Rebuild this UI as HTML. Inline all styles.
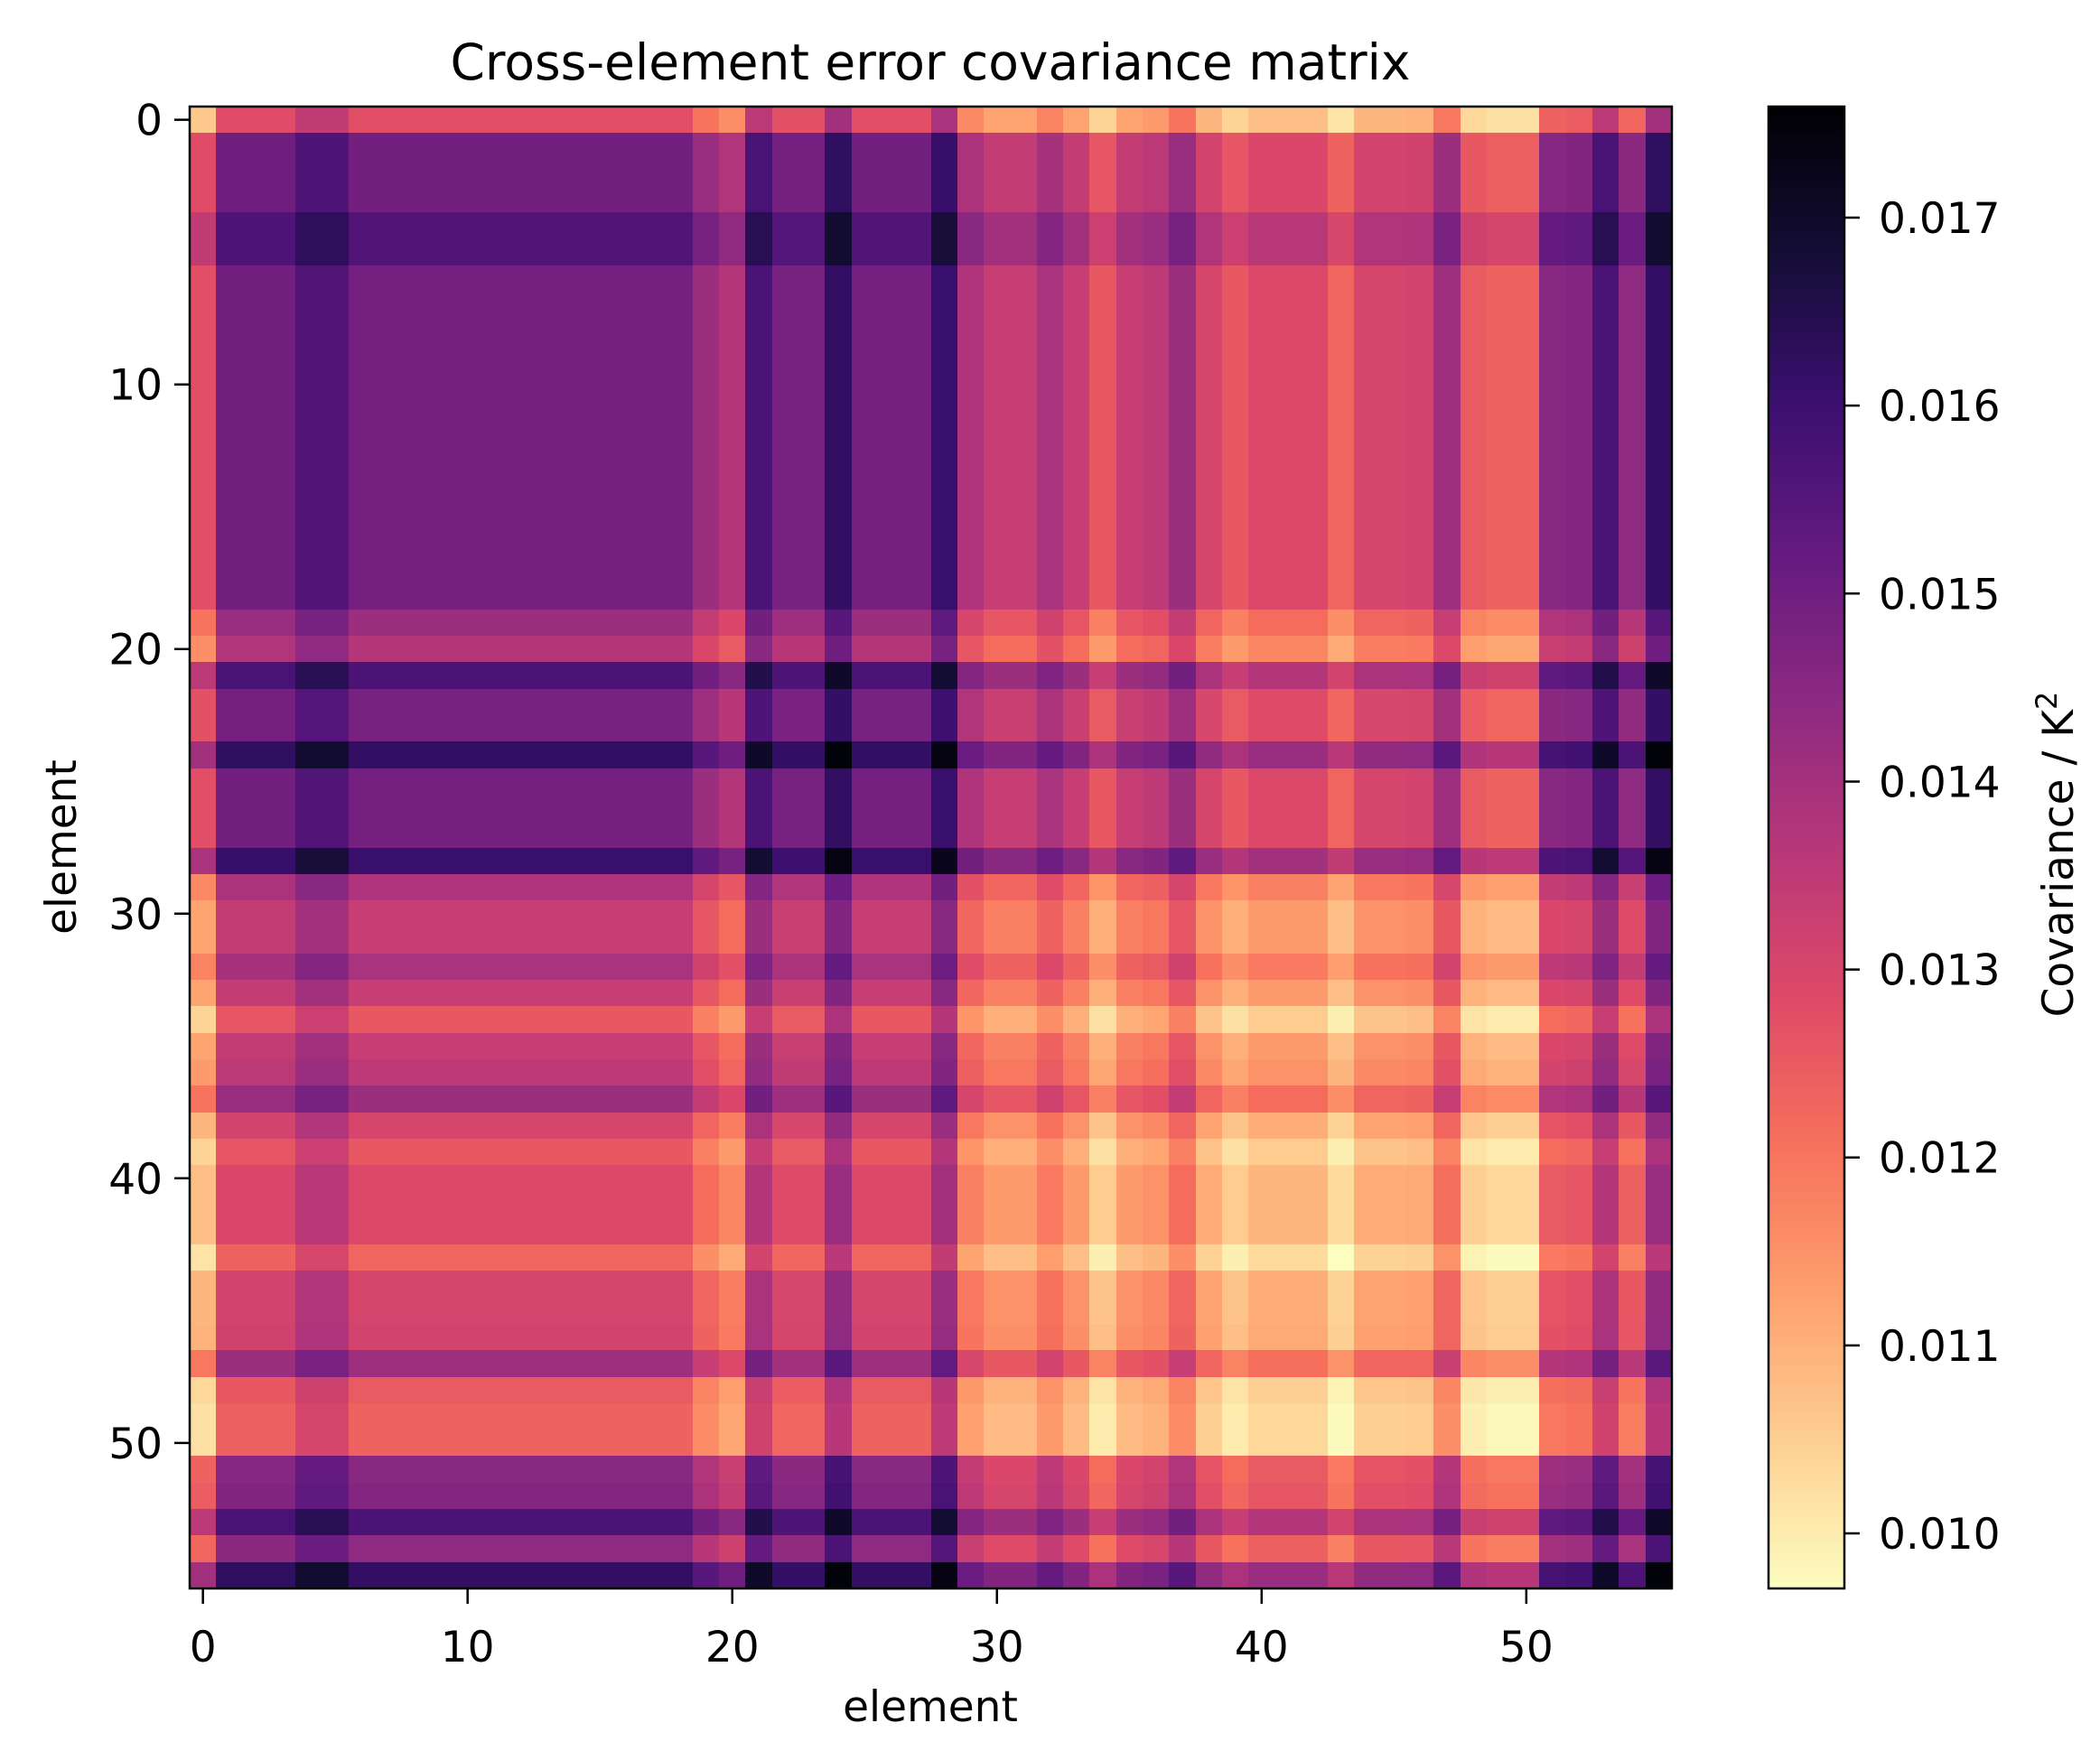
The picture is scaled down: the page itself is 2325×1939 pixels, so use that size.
<!DOCTYPE html>
<html><head><meta charset="utf-8">
<style>
html,body{margin:0;padding:0;background:#fff;}
svg{display:block;}
text{font-family:"DejaVu Sans","Liberation Sans",sans-serif;fill:#000;}
</style></head>
<body>
<svg id="s" width="2325" height="1939" viewBox="0 0 2325 1939" xmlns="http://www.w3.org/2000/svg">
<defs>
<linearGradient id="cb" x1="0" y1="1" x2="0" y2="0">
<stop offset="0" stop-color="#fcfdbf"/>
<stop offset="0.1" stop-color="#fecf92"/>
<stop offset="0.2" stop-color="#fe9f6d"/>
<stop offset="0.3" stop-color="#f7705c"/>
<stop offset="0.4" stop-color="#de4968"/>
<stop offset="0.5" stop-color="#b73779"/>
<stop offset="0.6" stop-color="#8c2981"/>
<stop offset="0.7" stop-color="#641a80"/>
<stop offset="0.8" stop-color="#3b0f70"/>
<stop offset="0.9" stop-color="#140e36"/>
<stop offset="1" stop-color="#000004"/>
</linearGradient>
</defs>
<g id="hm" shape-rendering="crispEdges"></g>
<rect x="210" y="118" width="1641" height="1641" fill="none" stroke="#000" stroke-width="2.5"/>
<text x="1030" y="88" font-size="55" text-anchor="middle">Cross-element error covariance matrix</text>
<g id="ticks" stroke="#000" stroke-width="2.5"></g>
<g id="labels" font-size="47"></g>
<text x="1030" y="1906" font-size="47" text-anchor="middle">element</text>
<text transform="translate(84,938) rotate(-90)" font-size="47" text-anchor="middle">element</text>
<rect x="1958" y="118" width="84" height="1641" fill="url(#cb)" stroke="#000" stroke-width="2.5"/>
<g id="cbt" stroke="#000" stroke-width="2.5"></g>
<g id="cbl" font-size="47"></g>
<text transform="translate(2295,946) rotate(-90)" font-size="47" text-anchor="middle">Covariance / K<tspan font-size="32" dy="-18">2</tspan></text>
</svg>
<script>
(function(){
var NS="http://www.w3.org/2000/svg";
var stops=[[0,0,4],[20,14,54],[59,15,112],[100,26,128],[140,41,129],[183,55,121],[222,73,104],[247,112,92],[254,159,109],[254,207,146],[252,253,191]];
function magma(t){t=Math.max(0,Math.min(1,t));var p=t*10,i=Math.min(9,Math.floor(p)),f=p-i;var a=stops[i],b=stops[i+1];
return "rgb("+Math.round(a[0]+(b[0]-a[0])*f)+","+Math.round(a[1]+(b[1]-a[1])*f)+","+Math.round(a[2]+(b[2]-a[2])*f)+")";}
var vmin=0.009707,vmax=0.017591;
var a=[];
function set(i0,i1,v){for(var i=i0;i<=i1;i++)a[i]=v;}
set(0,0,53);set(1,3,75);set(4,5,81.5);set(6,18,74.5);set(19,19,67);set(20,20,62.5);set(21,21,82.5);
set(22,23,74);set(24,24,87.5);set(25,27,74.5);set(28,28,86);set(29,29,66);set(30,31,61.5);set(32,32,67);
set(33,33,61.5);set(34,34,53.5);set(35,35,61.5);set(36,36,63);set(37,37,69.5);set(38,38,58.5);set(39,39,53.5);
set(40,42,57);set(43,43,51);set(44,45,58.5);set(46,46,59);set(47,47,69);set(48,48,53);set(49,50,51.5);
set(51,51,70.5);set(52,52,71.5);set(53,53,82.5);set(54,54,69.5);set(55,55,87.5);
for(var q=29;q<=50;q++)a[q]-=2.5;
var g=document.getElementById("hm");var L=210,T=118,W=1641,n=56,c=W/n;
for(var i=0;i<n;i++)for(var j=0;j<n;j++){
var v=(a[i]+a[j])*1e-4;var t=(v-vmin)/(vmax-vmin);
var r=document.createElementNS(NS,"rect");
var x0=Math.round(L+j*c),x1=Math.round(L+(j+1)*c),y0=Math.round(T+i*c),y1=Math.round(T+(i+1)*c);
r.setAttribute("x",x0);r.setAttribute("y",y0);r.setAttribute("width",x1-x0);r.setAttribute("height",y1-y0);
r.setAttribute("fill",magma(1-t));g.appendChild(r);}
var tk=document.getElementById("ticks"),lb=document.getElementById("labels");
function line(p,x1,y1,x2,y2){var l=document.createElementNS(NS,"line");l.setAttribute("x1",x1);l.setAttribute("y1",y1);l.setAttribute("x2",x2);l.setAttribute("y2",y2);p.appendChild(l);}
function txt(p,x,y,s,anc){var e=document.createElementNS(NS,"text");e.setAttribute("x",x);e.setAttribute("y",y);e.setAttribute("text-anchor",anc);e.textContent=s;p.appendChild(e);}
for(var k=0;k<=50;k+=10){var pos=L+(k+0.5)*c;
line(tk,pos,1759,pos,1776);txt(lb,pos,1840,String(k),"middle");
var py=T+(k+0.5)*c;line(tk,193,py,210,py);txt(lb,180,py+17,String(k),"end");}
var ct=document.getElementById("cbt"),cl=document.getElementById("cbl");
for(var m=10;m<=17;m++){var v=m/1000;var y=1759-(v-vmin)/(vmax-vmin)*1641;
line(ct,2042,y,2059,y);txt(cl,2080,y+17,"0.0"+m,"start");}
})();
</script>
</body></html>
